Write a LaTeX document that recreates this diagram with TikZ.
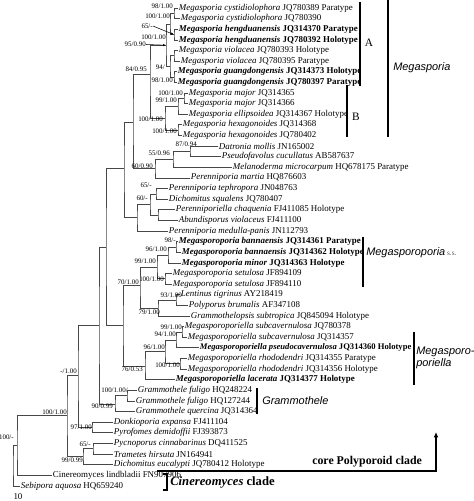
\documentclass[tikz,border=0pt]{standalone}
\usepackage{fontspec}
\setmainfont{Liberation Serif}
\setsansfont{Liberation Sans}
\usetikzlibrary{arrows.meta}

\newcommand{\txn}[2]{\textit{#1} #2}
\newcommand{\txnb}[2]{\textbf{\textit{#1} #2}}

\begin{document}
\begin{tikzpicture}[
  x=0.75pt, y=-0.75pt,
  br/.style={draw=black!72, line width=0.55pt},
  leaf/.style={anchor=west, inner sep=0.5pt, font=\fontsize{6.7}{7}\selectfont},
  bs/.style={anchor=east, inner sep=0pt, font=\fontsize{5.2}{5.5}\selectfont},
  bar/.style={line width=1.5pt},
  clade/.style={anchor=west, inner sep=0pt, align=left,
                font=\sffamily\itshape\fontsize{8.2}{9}\selectfont},
  ptr/.style={-{Latex[length=2.2pt,width=1.8pt]}, line width=0.4pt}
]
\useasboundingbox (0,0) rectangle (474,501);

% taxa, one row each
\node[leaf] (cys1) at (178,8.0)   {\txn{Megasporia cystidiolophora}{JQ780389 Paratype}};
\node[leaf] (cys2) at (180,18.6)  {\txn{Megasporia cystidiolophora}{JQ780390}};
\node[leaf] (hen1) at (178,29.2)  {\txnb{Megasporia hengduanensis}{JQ314370 Paratype}};
\node[leaf] (hen2) at (178,39.9)  {\txnb{Megasporia hengduanensis}{JQ780392 Holotype}};
\node[leaf] (vio1) at (178,50.5)  {\txn{Megasporia violacea}{JQ780393 Holotype}};
\node[leaf] (vio2) at (180,61.1)  {\txn{Megasporia violacea}{JQ780395 Paratype}};
\node[leaf] (gua1) at (177,71.7)  {\txnb{Megasporia guangdongensis}{JQ314373 Holotype}};
\node[leaf] (gua2) at (177,82.3)  {\txnb{Megasporia guangdongensis}{JQ780397 Paratype}};
\node[leaf] (maj1) at (188,93.0)  {\txn{Megasporia major}{JQ314365}};
\node[leaf] (maj2) at (188,103.6) {\txn{Megasporia major}{JQ314366}};
\node[leaf] (ell)  at (188,114.2) {\txn{Megasporia ellipsoidea}{JQ314367 Holotype}};
\node[leaf] (hex1) at (182,124.8) {\txn{Megasporia hexagonoides}{JQ314368}};
\node[leaf] (hex2) at (182,135.4) {\txn{Megasporia hexagonoides}{JQ780402}};
\node[leaf] (dat)  at (218,146.1) {\txn{Datronia mollis}{JN165002}};
\node[leaf] (pse)  at (221,156.7) {\txn{Pseudofavolus cucullatus}{AB587637}};
\node[leaf] (mel)  at (232,167.3) {\txn{Melanoderma microcarpum}{HQ678175 Paratype}};
\node[leaf] (mar)  at (190,177.9) {\txn{Perenniporia martia}{HQ876603}};
\node[leaf] (tep)  at (168,188.5) {\txn{Perenniporia tephropora}{JN048763}};
\node[leaf] (squ)  at (168,199.2) {\txn{Dichomitus squalens}{JQ780407}};
\node[leaf] (cha)  at (175,209.8) {\txn{Perenniporiella chaquenia}{FJ411085 Holotype}};
\node[leaf] (abu)  at (178,220.4) {\txn{Abundisporus violaceus}{FJ411100}};
\node[leaf] (med)  at (168,231.0) {\txn{Perenniporia medulla-panis}{JN112793}};
\node[leaf] (ban1) at (178,241.6) {\txnb{Megasporoporia bannaensis}{JQ314361 Paratype}};
\node[leaf] (ban2) at (181,252.3) {\txnb{Megasporoporia bannaensis}{JQ314362 Holotype}};
\node[leaf] (min)  at (181,262.9) {\txnb{Megasporoporia minor}{JQ314363 Holotype}};
\node[leaf] (set1) at (172,273.5) {\txn{Megasporoporia setulosa}{JF894109}};
\node[leaf] (set2) at (172,284.1) {\txn{Megasporoporia setulosa}{JF894110}};
\node[leaf] (len)  at (180,294.7) {\txn{Lentinus tigrinus}{AY218419}};
\node[leaf] (pol)  at (188,305.4) {\txn{Polyporus brumalis}{AF347108}};
\node[leaf] (gro)  at (190,316.0) {\txn{Grammothelopsis subtropica}{JQ845094 Holotype}};
\node[leaf] (sub1) at (184,326.6) {\txn{Megasporoporiella subcavernulosa}{JQ780378}};
\node[leaf] (sub2) at (187,337.2) {\txn{Megasporoporiella subcavernulosa}{JQ314357}};
\node[leaf, font=\fontsize{6.45}{7}\selectfont] (psc) at (199,347.8) {\txnb{Megasporoporiella pseudocavernulosa}{JQ314360 Holotype}};
\node[leaf] (rho1) at (187,358.4) {\txn{Megasporoporiella rhododendri}{JQ314355 Paratype}};
\node[leaf] (rho2) at (187,369.1) {\txn{Megasporoporiella rhododendri}{JQ314356 Holotype}};
\node[leaf] (lac)  at (175,379.7) {\txnb{Megasporoporiella lacerata}{JQ314377 Holotype}};
\node[leaf] (ful1) at (137,390.3) {\txn{Grammothele fuligo}{HQ248224}};
\node[leaf] (ful2) at (135,400.9) {\txn{Grammothele fuligo}{HQ127244}};
\node[leaf] (que)  at (135,411.5) {\txn{Grammothele quercina}{JQ314364}};
\node[leaf] (don)  at (113,422.2) {\txn{Donkioporia expansa}{FJ411104}};
\node[leaf] (pyr)  at (113,432.8) {\txn{Pyrofomes demidoffii}{FJ393873}};
\node[leaf] (pyc)  at (113,443.4) {\txn{Pycnoporus cinnabarinus}{DQ411525}};
\node[leaf] (tra)  at (113,454.0) {\txn{Trametes hirsuta}{JN164941}};
\node[leaf] (euc)  at (113,464.6) {\txn{Dichomitus eucalypti}{JQ780412 Holotype}};
\node[leaf] (cin)  at (52,475.2)  {Cinereomyces lindbladii FN907906};
\node[leaf] (seb)  at (20,485.9)  {\txn{Sebipora aquosa}{HQ659240}};

% internal nodes
\coordinate (cys)  at (174,13.3);
\coordinate (heng) at (174,34.6);
\coordinate (ch)   at (170,24.0);
\coordinate (vio)  at (174,55.8);
\coordinate (gua)  at (174,77.0);
\coordinate (vg)   at (170,66.4);
\coordinate (nA)   at (166,45.2);
\coordinate (maj)  at (184,98.3);
\coordinate (me)   at (178,106.3);
\coordinate (hex)  at (178,130.1);
\coordinate (nB)   at (165,118.2);
\coordinate (meg)  at (150,74.0);
\coordinate (d87)  at (190,151.4);
\coordinate (n53)  at (173,159.3);
\coordinate (n60)  at (155,168.6);
\coordinate (nX)   at (133,122.0);
\coordinate (p65)  at (156,193.9);
\coordinate (pa)   at (158,215.1);
\coordinate (p60)  at (150,204.5);
\coordinate (per)  at (137,217.8);
\coordinate (n124) at (124,168.0);
\coordinate (ban)  at (176,246.9);
\coordinate (b96)  at (168,254.9);
\coordinate (setu) at (165,278.8);
\coordinate (m99)  at (157,266.9);
\coordinate (l93)  at (176,300.0);
\coordinate (l79)  at (158,308.0);
\coordinate (n70)  at (140,285.0);
\coordinate (sc)   at (182,331.9);
\coordinate (s94)  at (176,339.9);
\coordinate (rh)   at (180,363.7);
\coordinate (s96)  at (165,351.8);
\coordinate (s76)  at (145,366.0);
\coordinate (n123) at (123,325.0);
\coordinate (n106) at (106,247.0);
\coordinate (ff)   at (127,395.6);
\coordinate (gram) at (115,404.5);
\coordinate (n99)  at (99,325.0);
\coordinate (d97)  at (92,427.5);
\coordinate (py65) at (93,448.7);
\coordinate (e99)  at (83,456.7);
\coordinate (n78)  at (78,375.0);
\coordinate (n67)  at (67,415.0);
\coordinate (n15)  at (17,445.0);
\coordinate (root) at (13,465.0);

% branches
\draw[br] (cys1.west) -| (cys) |- (cys2.west);
\draw[br] (hen1.west) -| (heng) |- (hen2.west);
\draw[br] (cys) -| (ch) |- (heng);
\draw[br] (vio1.west) -| (vio) |- (vio2.west);
\draw[br] (gua1.west) -| (gua) |- (gua2.west);
\draw[br] (vio) -| (vg) |- (gua);
\draw[br] (ch) -| (nA) |- (vg);
\draw[br] (maj1.west) -| (maj) |- (maj2.west);
\draw[br] (maj) -| (me) |- (ell.west);
\draw[br] (hex1.west) -| (hex) |- (hex2.west);
\draw[br] (me) -| (nB) |- (hex);
\draw[br] (nA) -| (meg) |- (nB);
\draw[br] (dat.west) -| (d87) |- (pse.west);
\draw[br] (d87) -| (n53) |- (mel.west);
\draw[br] (n53) -| (n60) |- (mar.west);
\draw[br] (meg) -| (nX) |- (n60);
\draw[br] (tep.west) -| (p65) |- (squ.west);
\draw[br] (cha.west) -| (pa) |- (abu.west);
\draw[br] (p65) -| (p60) |- (pa);
\draw[br] (p60) -| (per) |- (med.west);
\draw[br] (nX) -| (n124) |- (per);
\draw[br] (ban1.west) -| (ban) |- (ban2.west);
\draw[br] (ban) -| (b96) |- (min.west);
\draw[br] (set1.west) -| (setu) |- (set2.west);
\draw[br] (b96) -| (m99) |- (setu);
\draw[br] (len.west) -| (l93) |- (pol.west);
\draw[br] (l93) -| (l79) |- (gro.west);
\draw[br] (m99) -| (n70) |- (l79);
\draw[br] (sub1.west) -| (sc) |- (sub2.west);
\draw[br] (sc) -| (s94) |- (psc.west);
\draw[br] (rho1.west) -| (rh) |- (rho2.west);
\draw[br] (s94) -| (s96) |- (rh);
\draw[br] (s96) -| (s76) |- (lac.west);
\draw[br] (n70) -| (n123) |- (s76);
\draw[br] (n124) -| (n106) |- (n123);
\draw[br] (ful1.west) -| (ff) |- (ful2.west);
\draw[br] (ff) -| (gram) |- (que.west);
\draw[br] (n106) -| (n99) |- (gram);
\draw[br] (don.west) -| (d97) |- (pyr.west);
\draw[br] (pyc.west) -| (py65) |- (tra.west);
\draw[br] (py65) -| (e99) |- (euc.west);
\draw[br] (n99) -| (n78) |- (d97);
\draw[br] (n78) -| (n67) |- (e99);
\draw[br] (n67) -| (n15) |- (cin.west);
\draw[br] (n15) -| (root) |- (seb.west);

% support values
\node[bs] at (173,6)   {98/1.00};
\node[bs] at (170,16)  {100/1.00};
\node[bs] (l65a) at (153,26) {65/-};
\node[bs] at (166,37.5) {100/1.00};
\node[bs] (l95) at (146,44.5) {95/0.90};
\node[bs] at (165,67)  {94/};
\node[bs] at (173,80)  {98/1.00};
\node[bs] at (147,69)  {84/0.95};
\node[bs] at (183,93)  {100/1.00};
\node[bs] at (177,100) {99/1.00};
\node[bs] at (163,119) {100/1.00};
\node[bs] at (177,131) {100/1.00};
\node[bs] at (197,144) {87/0.94};
\node[bs] at (170,153) {55/0.96};
\node[bs] at (153,166) {60/0.90};
\node[bs] at (152,185) {65/-};
\node[bs] at (148,198) {60/-};
\node[bs] at (176,240) {98/-};
\node[bs] at (167,249) {96/1.00};
\node[bs] at (156,261) {99/1.00};
\node[bs] at (164,279) {100/1.00};
\node[bs] at (139,282) {70/1.00};
\node[bs] at (182,295) {93/1.00};
\node[bs] at (160,312) {79/1.00};
\node[bs] at (182,327) {99/1.00};
\node[bs] at (176,334) {94/1.00};
\node[bs] at (165,347) {96/1.00};
\node[bs] at (180,365) {100/1.00};
\node[bs] at (143,369) {76/0.53};
\node[bs] at (128,390) {100/1.00/};
\node[bs] at (113,406) {90/0.99};
\node[bs] at (77,371)  {-/1.00};
\node[bs] at (67,412)  {100/1.00};
\node[bs] at (92,427)  {97/1.00};
\node[bs] at (91,444)  {65/-};
\node[bs] at (83,460)  {99/0.99};
\node[bs] at (14,437)  {100/-};
\draw[ptr] (l65a.east) -- (heng);
\draw[ptr] (l95.east) -- (nA);

% clade bars and names
\draw[bar] (360,2) -- (360,86);
\node[font=\fontsize{8.5}{9}\selectfont] at (369,43) {A};
\draw[bar] (347,85) -- (347,137);
\node[font=\fontsize{8.5}{9}\selectfont] at (356,117) {B};
\draw[bar] (388,0) -- (388,137);
\node[clade] at (393,68) {Megasporia};
\draw[bar] (363,237) -- (363,287);
\node[clade] at (366,253) {Megasporoporia\,{\rmfamily\upshape\fontsize{5.5}{6}\selectfont\color{black!65}s.s.}};
\draw[bar] (414,332) -- (414,385);
\node[clade] at (416,358) {Megasporo-\\poriella};
\draw[bar] (257,388) -- (257,414);
\node[clade] at (262,401) {Grammothele};

% core clade arrow
\coordinate (coreL) at (157,471);
\coordinate (coreR) at (436,471);
\coordinate (coreT) at (436,432);
\draw[line width=1.1pt, -{Latex[length=4pt,width=3.5pt]}] (coreL) -- (coreR) -- (coreT);
\node[anchor=west, inner sep=0pt, font=\bfseries\fontsize{8.9}{9}\selectfont] at (312,462) {core Polyporoid clade};

% Cinereomyces bracket
\draw[line width=1.2pt] (163,474) -- (167,474) -- (167,490) -- (163,490);
\node[anchor=west, inner sep=0pt, font=\bfseries\fontsize{9.5}{10}\selectfont] at (170,482) {\textit{Cinereomyces} clade};

\node[font=\fontsize{6.7}{7}\selectfont] at (18,497) {10};
\end{tikzpicture}
\end{document}
